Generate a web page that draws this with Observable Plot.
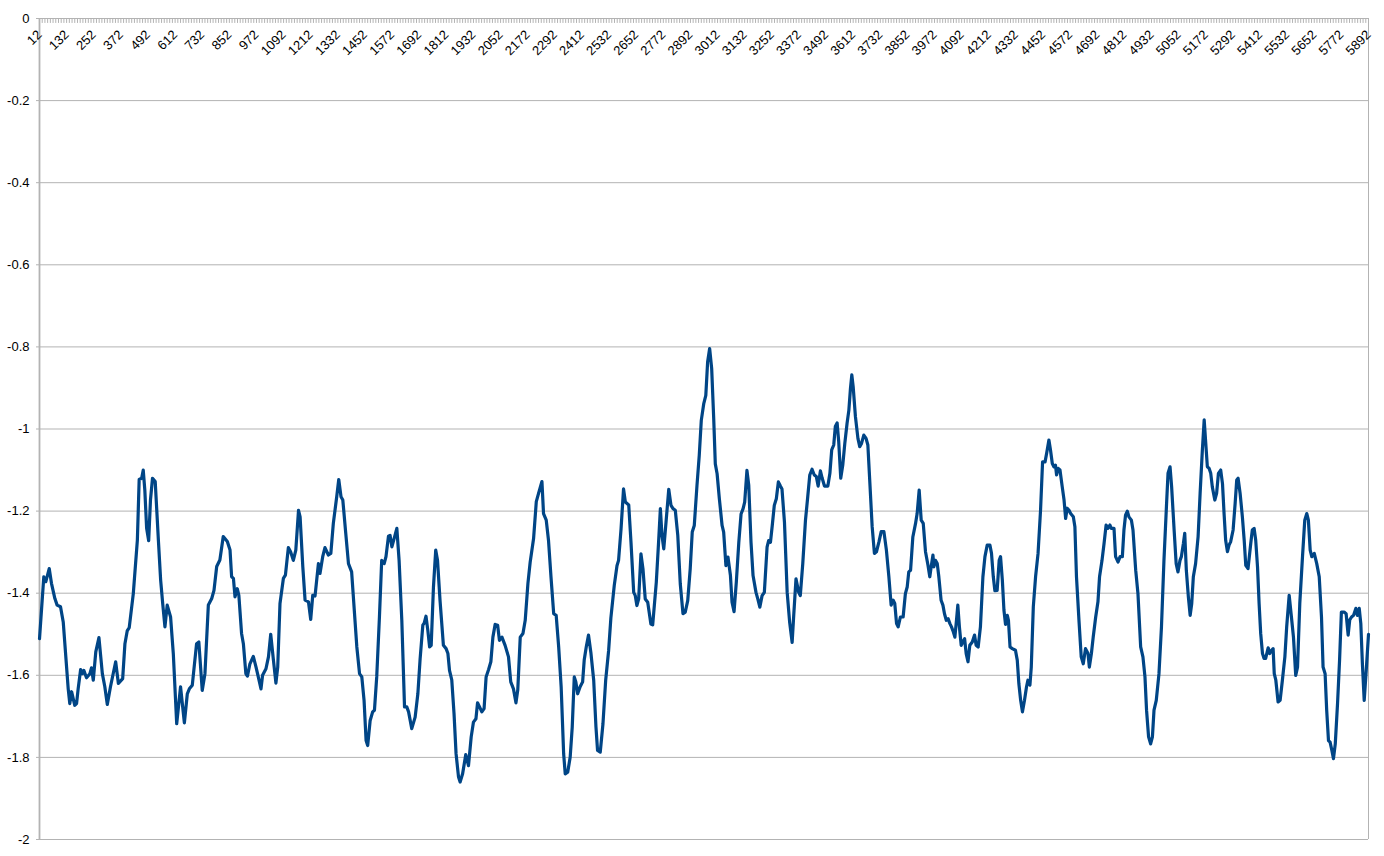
<!DOCTYPE html>
<html>
<head>
<meta charset="utf-8">
<script src="https://cdn.jsdelivr.net/npm/d3@7"></script>
<script src="https://cdn.jsdelivr.net/npm/@observablehq/plot@0.6"></script>
<style>
  html, body { margin: 0; padding: 0; background: #fff; overflow: hidden; }
  #chart svg { display: block; }
</style>
</head>
<body>
<div id="chart"></div>
<script>
// Tick labels on the category axis (every 10th category)
const xLabels = [12,132,252,372,492,612,732,852,972,1092,1212,1332,1452,1572,1692,1812,1932,2052,2172,2292,2412,2532,2652,2772,2892,3012,3132,3252,3372,3492,3612,3732,3852,3972,4092,4212,4332,4452,4572,4692,4812,4932,5052,5172,5292,5412,5532,5652,5772,5892];
// y axis ticks
const yTicks = [0,-0.2,-0.4,-0.6,-0.8,-1,-1.2,-1.4,-1.6,-1.8,-2];
// category step for the minor tick marks
const categoryStep = 12;

// Series values: [x, value]
const segA = [[12,-1.511],[31,-1.36],[40,-1.372],[55,-1.34],[65,-1.376],[80,-1.413],[90,-1.429],[105,-1.433],[117,-1.47],[139,-1.633],[146,-1.669],[154,-1.64],[168,-1.673],[176,-1.669],[183,-1.633],[194,-1.586],[202,-1.596],[208,-1.588],[220,-1.606],[235,-1.596],[242,-1.582],[250,-1.612],[261,-1.543],[275,-1.508],[290,-1.596],[301,-1.628],[312,-1.671],[326,-1.628],[349,-1.567],[361,-1.62],[380,-1.608],[390,-1.523],[400,-1.492],[409,-1.484],[427,-1.401],[445,-1.271],[453,-1.123],[464,-1.12],[471,-1.10],[478,-1.149],[486,-1.242],[495,-1.272],[503,-1.173],[512,-1.12],[524,-1.128],[538,-1.271],[548,-1.368],[557,-1.425],[567,-1.482],[577,-1.429],[592,-1.458],[604,-1.547],[619,-1.718],[636,-1.628],[653,-1.716],[666,-1.645],[675,-1.633],[688,-1.624],[707,-1.523],[717,-1.519],[732,-1.637],[744,-1.596],[759,-1.429],[774,-1.413],[784,-1.393],[796,-1.335],[810,-1.319],[825,-1.262],[843,-1.274],[855,-1.295]];
const segB = [[862,-1.36],[870,-1.364],[877,-1.409],[887,-1.389],[894,-1.405],[906,-1.498],[914,-1.523],[925,-1.596],[932,-1.602],[943,-1.572],[958,-1.554],[970,-1.58],[980,-1.604],[992,-1.633],[999,-1.60],[1014,-1.584],[1025,-1.555],[1035,-1.50],[1047,-1.563],[1058,-1.619],[1066,-1.58],[1076,-1.425],[1091,-1.364],[1100,-1.356],[1113,-1.289],[1123,-1.299],[1135,-1.32],[1146,-1.295],[1158,-1.198],[1165,-1.214],[1177,-1.336],[1187,-1.417],[1202,-1.421],[1212,-1.464],[1221,-1.405],[1231,-1.407],[1246,-1.328],[1253,-1.352],[1265,-1.311],[1275,-1.289],[1290,-1.307],[1301,-1.303],[1312,-1.23],[1327,-1.165],[1336,-1.123],[1346,-1.165],[1354,-1.173],[1367,-1.254],[1379,-1.328],[1393,-1.348],[1416,-1.531],[1428,-1.596],[1438,-1.604],[1448,-1.661],[1457,-1.759],[1464,-1.771],[1475,-1.71],[1486,-1.689],[1494,-1.685],[1504,-1.604],[1516,-1.458],[1526,-1.32],[1537,-1.328],[1545,-1.311],[1556,-1.261],[1563,-1.259],[1571,-1.287],[1581,-1.267],[1593,-1.242],[1603,-1.32],[1615,-1.466],[1627,-1.677],[1637,-1.677],[1645,-1.689],[1659,-1.73],[1674,-1.702],[1686,-1.645]];
const segC = [[1696,-1.56],[1708,-1.478],[1714,-1.473],[1722,-1.456],[1730,-1.49],[1738,-1.531],[1745,-1.527],[1755,-1.385],[1765,-1.295],[1773,-1.32],[1784,-1.417],[1799,-1.527],[1811,-1.535],[1819,-1.547],[1826,-1.588],[1836,-1.611],[1846,-1.693],[1855,-1.791],[1866,-1.848],[1873,-1.86],[1884,-1.84],[1898,-1.793],[1910,-1.82],[1922,-1.75],[1932,-1.714],[1943,-1.706],[1950,-1.667],[1959,-1.677],[1969,-1.689],[1979,-1.681],[1988,-1.604],[1999,-1.586],[2009,-1.567],[2018,-1.507],[2028,-1.476],[2039,-1.478],[2047,-1.515],[2058,-1.507],[2072,-1.527],[2087,-1.555],[2097,-1.616],[2109,-1.633],[2120,-1.667],[2128,-1.636],[2139,-1.507],[2151,-1.498],[2161,-1.466],[2173,-1.376],[2183,-1.324],[2198,-1.267],[2210,-1.177],[2220,-1.157],[2235,-1.128],[2242,-1.206],[2254,-1.222],[2264,-1.271],[2275,-1.36],[2287,-1.45],[2298,-1.454],[2309,-1.531],[2320,-1.628],[2331,-1.791],[2338,-1.84],[2349,-1.836],[2360,-1.799],[2369,-1.726],[2378,-1.604],[2385,-1.616],[2393,-1.645],[2404,-1.628],[2415,-1.616],[2422,-1.563],[2431,-1.531],[2441,-1.502],[2452,-1.547],[2464,-1.612],[2474,-1.726],[2481,-1.783],[2493,-1.787],[2505,-1.718],[2517,-1.612],[2530,-1.54],[2540,-1.46]];
const segD = [[2555,-1.381],[2567,-1.333],[2574,-1.32],[2585,-1.243],[2596,-1.146],[2604,-1.178],[2619,-1.185],[2629,-1.276],[2641,-1.398],[2648,-1.406],[2655,-1.43],[2663,-1.414],[2673,-1.304],[2682,-1.341],[2692,-1.414],[2703,-1.422],[2717,-1.475],[2725,-1.477],[2741,-1.373],[2751,-1.276],[2759,-1.194],[2766,-1.259],[2774,-1.292],[2784,-1.227],[2796,-1.147],[2806,-1.186],[2815,-1.194],[2825,-1.198],[2836,-1.259],[2847,-1.377],[2859,-1.45],[2869,-1.446],[2880,-1.418],[2891,-1.341],[2900,-1.251],[2909,-1.235],[2921,-1.137],[2931,-1.064],[2940,-0.979],[2951,-0.938],[2960,-0.918],[2968,-0.837],[2977,-0.804],[2986,-0.853],[2995,-0.975],[3002,-1.085],[3010,-1.109],[3020,-1.17],[3032,-1.235],[3039,-1.251],[3049,-1.333],[3058,-1.312],[3069,-1.357],[3076,-1.422],[3085,-1.445],[3095,-1.373],[3106,-1.276],[3116,-1.207],[3125,-1.194],[3132,-1.178],[3142,-1.101],[3150,-1.137],[3160,-1.276],[3169,-1.357],[3182,-1.398],[3190,-1.414],[3199,-1.434],[3209,-1.406],[3219,-1.398],[3231,-1.288],[3238,-1.272],[3246,-1.276],[3254,-1.235],[3263,-1.186],[3272,-1.17],[3281,-1.129],[3290,-1.139],[3297,-1.146],[3308,-1.227],[3320,-1.398],[3331,-1.471],[3342,-1.52],[3349,-1.454],[3359,-1.365],[3371,-1.398],[3378,-1.406]];
const segE = [[3389,-1.328],[3401,-1.222],[3411,-1.165],[3420,-1.112],[3430,-1.098],[3440,-1.112],[3449,-1.116],[3457,-1.139],[3467,-1.102],[3475,-1.12],[3485,-1.139],[3500,-1.139],[3509,-1.108],[3517,-1.051],[3526,-1.039],[3533,-0.994],[3541,-0.985],[3548,-1.031],[3557,-1.12],[3566,-1.088],[3575,-1.035],[3585,-0.986],[3593,-0.954],[3600,-0.901],[3606,-0.868],[3612,-0.897],[3622,-0.97],[3633,-1.023],[3641,-1.043],[3649,-1.035],[3659,-1.015],[3669,-1.023],[3677,-1.039],[3686,-1.133],[3696,-1.238],[3706,-1.303],[3715,-1.299],[3726,-1.275],[3736,-1.25],[3748,-1.25],[3759,-1.295],[3770,-1.36],[3780,-1.429],[3789,-1.417],[3796,-1.425],[3804,-1.474],[3811,-1.482],[3821,-1.458],[3833,-1.458],[3843,-1.401],[3851,-1.385],[3858,-1.348],[3866,-1.344],[3876,-1.263],[3888,-1.23],[3895,-1.206],[3904,-1.149],[3913,-1.222],[3922,-1.23],[3932,-1.299],[3943,-1.332],[3951,-1.36],[3957,-1.336],[3965,-1.307],[3969,-1.336],[3976,-1.32],[3984,-1.328],[3991,-1.36],[4001,-1.417],[4009,-1.429],[4016,-1.45],[4024,-1.466],[4032,-1.462],[4040,-1.474],[4047,-1.482],[4055,-1.494],[4062,-1.507],[4069,-1.466],[4075,-1.429],[4082,-1.482],[4090,-1.527],[4097,-1.519],[4105,-1.511],[4112,-1.547],[4120,-1.567],[4128,-1.527],[4139,-1.519],[4149,-1.502],[4156,-1.527],[4165,-1.531],[4175,-1.482],[4186,-1.36],[4195,-1.311],[4205,-1.283]];
const segF = [[4217,-1.283],[4224,-1.303],[4232,-1.36],[4239,-1.394],[4249,-1.393],[4258,-1.32],[4264,-1.311],[4272,-1.368],[4279,-1.441],[4286,-1.476],[4294,-1.454],[4299,-1.466],[4306,-1.531],[4316,-1.535],[4330,-1.539],[4338,-1.563],[4345,-1.62],[4353,-1.661],[4361,-1.689],[4370,-1.661],[4379,-1.628],[4385,-1.612],[4394,-1.624],[4400,-1.58],[4409,-1.433],[4419,-1.36],[4430,-1.303],[4441,-1.198],[4450,-1.08],[4461,-1.08],[4468,-1.059],[4478,-1.027],[4485,-1.051],[4493,-1.084],[4500,-1.092],[4507,-1.088],[4512,-1.112],[4519,-1.096],[4527,-1.10],[4537,-1.141],[4545,-1.173],[4552,-1.218],[4559,-1.193],[4567,-1.198],[4574,-1.206],[4586,-1.214],[4593,-1.238],[4600,-1.36],[4611,-1.466],[4621,-1.555],[4630,-1.572],[4640,-1.535],[4651,-1.547],[4657,-1.58],[4666,-1.547],[4674,-1.507],[4685,-1.458],[4695,-1.421],[4702,-1.36],[4713,-1.32],[4722,-1.279],[4731,-1.234],[4739,-1.242],[4748,-1.234],[4754,-1.242],[4766,-1.242],[4773,-1.311],[4784,-1.324],[4793,-1.311],[4803,-1.311],[4810,-1.246],[4817,-1.21],[4825,-1.20],[4832,-1.214],[4843,-1.222],[4850,-1.246],[4862,-1.344],[4872,-1.401],[4884,-1.531],[4894,-1.555],[4903,-1.604],[4910,-1.685],[4919,-1.75],[4928,-1.767],[4936,-1.75],[4943,-1.685],[4953,-1.661],[4965,-1.596],[4976,-1.482],[4987,-1.32],[4998,-1.189],[5005,-1.108],[5014,-1.092],[5021,-1.141],[5032,-1.246],[5041,-1.328],[5049,-1.348]];
const segG = [[5058,-1.32],[5064,-1.311],[5073,-1.279],[5079,-1.254],[5086,-1.344],[5095,-1.409],[5103,-1.454],[5110,-1.425],[5117,-1.36],[5127,-1.328],[5138,-1.263],[5147,-1.157],[5157,-1.051],[5165,-0.978],[5172,-1.035],[5179,-1.092],[5187,-1.096],[5194,-1.108],[5201,-1.141],[5212,-1.173],[5220,-1.157],[5228,-1.108],[5238,-1.10],[5246,-1.133],[5253,-1.206],[5260,-1.271],[5268,-1.299],[5275,-1.283],[5282,-1.275],[5293,-1.246],[5302,-1.181],[5309,-1.124],[5315,-1.12],[5324,-1.157],[5334,-1.214],[5342,-1.271],[5349,-1.332],[5359,-1.34],[5371,-1.279],[5378,-1.246],[5386,-1.242],[5393,-1.271],[5401,-1.336],[5408,-1.425],[5415,-1.498],[5423,-1.547],[5430,-1.559],[5437,-1.559],[5448,-1.533],[5455,-1.547],[5463,-1.539],[5470,-1.535],[5475,-1.596],[5482,-1.612],[5492,-1.665],[5501,-1.661],[5511,-1.612],[5522,-1.555],[5530,-1.482],[5541,-1.405],[5551,-1.458],[5560,-1.507],[5570,-1.60],[5578,-1.58],[5588,-1.425],[5600,-1.311],[5610,-1.222],[5619,-1.206],[5626,-1.222],[5634,-1.295],[5641,-1.311],[5652,-1.303],[5663,-1.328],[5674,-1.36],[5684,-1.458],[5691,-1.58],[5700,-1.596],[5707,-1.685],[5715,-1.759],[5722,-1.763],[5730,-1.783],[5737,-1.803],[5745,-1.767],[5755,-1.669],[5764,-1.563],[5772,-1.446],[5784,-1.446],[5793,-1.45],[5802,-1.502],[5809,-1.465],[5817,-1.458],[5826,-1.454],[5836,-1.437],[5843,-1.454],[5851,-1.437],[5858,-1.474],[5865,-1.572],[5873,-1.661],[5882,-1.588],[5892,-1.50]];

const series = [...segA, ...segB, ...segC, ...segD, ...segE, ...segF, ...segG].map(([x, v]) => ({x, v}));
const xMin = xLabels[0], xMax = xLabels[xLabels.length - 1];
const categories = d3.range(xMin, xMax + 1, categoryStep);

const grid = "#b3b3b3";
const chart = Plot.plot({
  width: 1384,
  height: 856,
  marginLeft: 39,
  marginRight: 16,
  marginTop: 18,
  marginBottom: 17,
  style: {fontFamily: "'Liberation Sans', Arial, sans-serif", fontSize: "13px", background: "#fff", color: "#000"},
  x: {domain: [xMin, xMax], axis: null},
  y: {domain: [-2, 0], axis: null},
  marks: [
    Plot.ruleY(yTicks, {stroke: grid, strokeWidth: 1}),
    Plot.ruleX([xMax], {stroke: grid, strokeWidth: 1}),
    Plot.ruleX(categories, {x: d => d, y1: 0, y2: -0.012, stroke: grid, strokeWidth: 1}),
    Plot.ruleX([xMin], {stroke: grid, strokeWidth: 1.8}),
    Plot.axisY(yTicks, {tickSize: 3, tickPadding: 7, stroke: grid, fill: "#000", fontSize: 13,
      label: null, tickFormat: d => String(d)}),
    Plot.text(xLabels, {x: d => d, y: 0, text: d => String(d), rotate: -45, textAnchor: "end",
      lineAnchor: "bottom", dx: 3, dy: 17, fontSize: 13, fill: "#000"}),
    Plot.line(series, {x: "x", y: "v", stroke: "#004586", strokeWidth: 3.2,
      strokeLinejoin: "round", strokeLinecap: "round"})
  ]
});
document.getElementById("chart").appendChild(chart);
</script>
</body>
</html>
